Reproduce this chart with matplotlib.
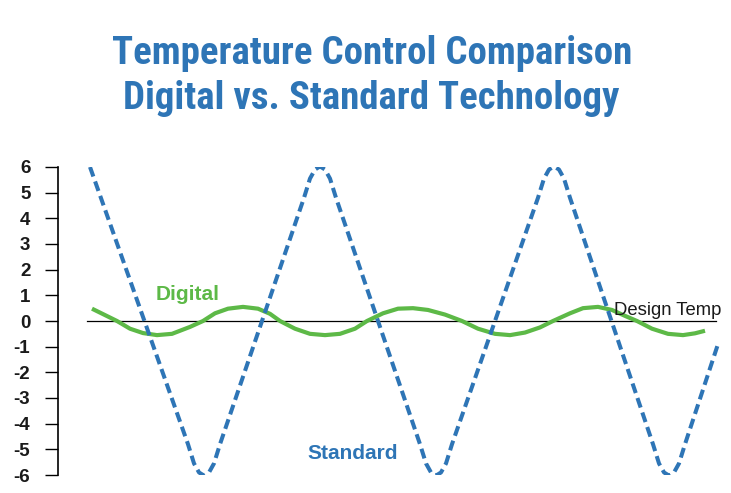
import numpy as np
from matplotlib import pyplot as plt

# Time axis (arbitrary units), deviation from design temperature
std_t = [3.2, 13.0, 13.6, 14.1, 14.5, 14.7, 15.1, 15.6, 16.2,
         24.6, 25.2, 25.7, 26.1, 26.3, 26.7, 27.2, 27.8,
         36.2, 36.8, 37.3, 37.7, 37.9, 38.3, 38.8, 39.4,
         48.0, 48.6, 49.1, 49.5, 49.7, 50.1, 50.6, 51.2,
         59.5, 60.1, 60.6, 61.0, 61.2, 61.6, 62.1, 62.7, 66.0]
std_y = [6.0, -4.8, -5.55, -5.9, -6.0, -6.0, -5.9, -5.55, -4.8,
         4.8, 5.55, 5.9, 6.0, 6.0, 5.9, 5.55, 4.8,
         -4.8, -5.55, -5.9, -6.0, -6.0, -5.9, -5.55, -4.8,
         4.8, 5.55, 5.9, 6.0, 6.0, 5.9, 5.55, 4.8,
         -4.8, -5.55, -5.9, -6.0, -6.0, -5.9, -5.55, -4.8, -0.9]

dig_t = [3.4, 4.6, 5.9, 7.2, 8.5, 9.9, 11.4, 13.2, 14.5, 15.7, 17.0, 18.5,
         20.0, 21.2, 22.2, 23.7, 25.2, 26.7, 28.2, 29.7, 30.9, 32.5, 34.0,
         35.5, 37.0, 38.7, 40.4, 42.0, 43.7, 45.2, 46.7, 48.2, 49.5, 51.2,
         52.5, 54.0, 55.4, 56.7, 57.9, 59.4, 61.0, 62.5, 63.7, 64.7]
dig_y = [0.48, 0.25, 0.0, -0.3, -0.47, -0.55, -0.5, -0.23, 0.0, 0.3, 0.48,
         0.55, 0.48, 0.28, 0.0, -0.3, -0.5, -0.55, -0.5, -0.3, 0.0, 0.3,
         0.48, 0.5, 0.43, 0.25, 0.0, -0.3, -0.5, -0.55, -0.45, -0.25, 0.0,
         0.3, 0.5, 0.55, 0.43, 0.2, 0.0, -0.3, -0.5, -0.55, -0.48, -0.38]

yticks = list(range(-6, 7))
design_t = [2.9, 65.8]
design_y = [0, 0]

BLUE = '#2E75B6'
GREEN = '#5DB947'

fig = plt.figure(figsize=(7.31, 4.93), dpi=100)
ax = fig.add_axes([58/731, 18/493, 673/731, 308/493])

ax.plot(design_t, design_y, color='black', lw=0.9, zorder=1)
ax.plot(dig_t, dig_y, color=GREEN, lw=3.0, solid_capstyle='butt', zorder=2)
ax.plot(std_t, std_y, color=BLUE, lw=2.9, dashes=(2.5, 1.3), dash_capstyle='butt', zorder=3)

ax.set_xlim(0, 67.3)
ax.set_ylim(-6, 6)
ax.set_xticks([])
ax.set_yticks(yticks)
ax.set_yticklabels([str(v) for v in yticks], fontsize=13.5, fontweight='bold',
                   family=['Liberation Sans', 'DejaVu Sans'], color='#1a1a1a')
ax.tick_params(axis='y', length=9.4, width=1.0, pad=10.5, color='black')
for s in ['top', 'right', 'bottom']:
    ax.spines[s].set_visible(False)
ax.spines['left'].set_linewidth(1.2)
ax.spines['left'].set_bounds(-6, 6)

ax.text(13.0, 0.83, 'Digital', color=GREEN, fontsize=15, fontweight='bold',
        family=['Liberation Sans', 'DejaVu Sans'], ha='center', va='baseline')
ax.text(29.5, -5.38, 'Standard', color=BLUE, fontsize=15, fontweight='bold',
        family=['Liberation Sans', 'DejaVu Sans'], ha='center', va='baseline')
ax.text(55.6, 0.22, 'Design Temp', color='#1a1a1a', fontsize=13.3,
        family=['Liberation Sans', 'DejaVu Sans'], ha='left', va='baseline')

title_font = ['Roboto Condensed', 'Liberation Sans', 'DejaVu Sans']
fig.text(372/731, 1 - 64/493, 'Temperature Control Comparison', color=BLUE,
         fontsize=28, fontweight='bold', family=title_font, ha='center', va='baseline')
fig.text(371/731, 1 - 109/493, 'Digital vs. Standard Technology', color=BLUE,
         fontsize=28, fontweight='bold', family=title_font, ha='center', va='baseline')

fig.savefig('out.png', dpi=100)
